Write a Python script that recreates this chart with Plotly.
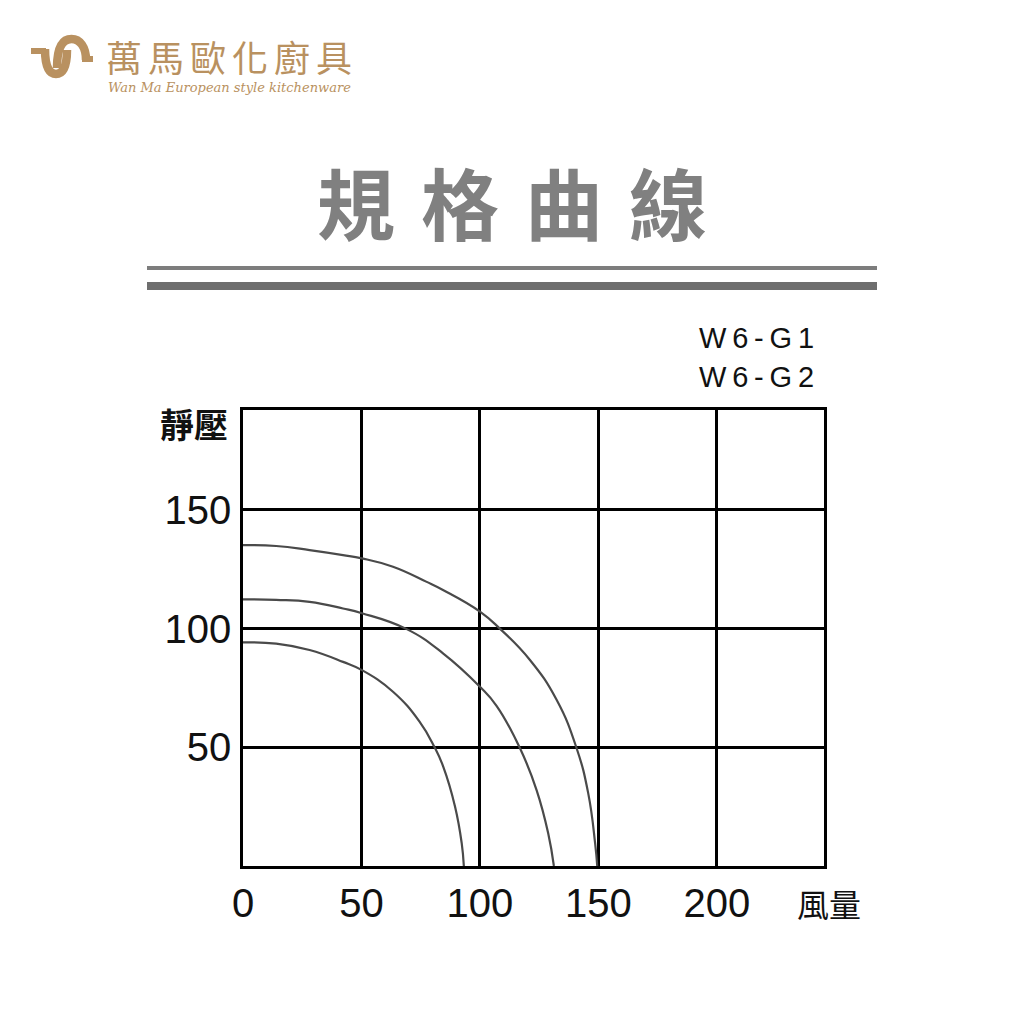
import plotly.graph_objects as go

# ---- data ----
curve_a_x = [0, 14, 28.1, 42.2, 50.2, 63.3, 77.3, 84.4, 100, 108.4, 121.1, 132.4, 140.8, 145.7, 148.6, 149.5]
curve_a_y = [135.2, 134.8, 133.1, 131, 129.6, 126.1, 119.8, 116.3, 107.2, 100, 86.8, 69.9, 49.6, 30.6, 9.6, 0]
curve_b_x = [0, 14, 28.1, 42.2, 50.2, 68.9, 84.4, 100, 107, 116.9, 123.9, 128.8, 131.2]
curve_b_y = [112.3, 112.1, 111.3, 108.5, 106.5, 99.9, 89.6, 75.5, 67.5, 49.6, 32, 13.8, 0]
curve_c_x = [0, 14, 28.1, 42.2, 50.2, 63.3, 74.5, 80.9, 84.5, 89.5, 92.3, 93.2]
curve_c_y = [94.2, 93.7, 91, 86, 82.5, 73.4, 60.8, 49.9, 41.9, 25, 9.6, 0]

x_ticks = [0, 50, 100, 150, 200]
y_ticks = [50, 100, 150]
x_range = [0, 245.2]
y_range = [0, 192.1]

models = ["W6-G1", "W6-G2"]

# ---- layout geometry (screen pixels of the plot area) ----
W = H = 1024
OFF = 8  # page body margin
L, R, T, B = 243, 824, 410, 866


def px(x):
    return (x - L) / (R - L)


def py(y):
    return (B - y) / (B - T)


def pt(x, y):
    return f"{px(x):.5f},{py(y):.5f}"


fig = go.Figure()
for cx, cy in [(curve_a_x, curve_a_y), (curve_b_x, curve_b_y), (curve_c_x, curve_c_y)]:
    fig.add_trace(go.Scatter(x=cx, y=cy, mode="lines",
                             line=dict(color="#4a4a4a", width=2.2, shape="spline", smoothing=1.3),
                             showlegend=False, hoverinfo="skip"))

gold = "#b99160"
shapes = [
    # horizontal rules under the title
    dict(type="line", xref="paper", yref="paper", x0=px(147), x1=px(877), y0=py(268), y1=py(268),
         line=dict(color="#7d7d7d", width=4)),
    dict(type="line", xref="paper", yref="paper", x0=px(147), x1=px(877), y0=py(286), y1=py(286),
         line=dict(color="#6e6e6e", width=8)),
    # logo icon
    dict(type="line", xref="paper", yref="paper", x0=px(31), x1=px(46), y0=py(51), y1=py(51),
         line=dict(color=gold, width=6)),
    dict(type="path", xref="paper", yref="paper",
         path=f"M{pt(45,49)} C{pt(45,68)} {pt(50,74)} {pt(56,74)} C{pt(62,74)} {pt(67,68)} {pt(67,50)}",
         line=dict(color=gold, width=8.5)),
    dict(type="path", xref="paper", yref="paper",
         path=f"M{pt(57,68)} C{pt(57,47)} {pt(63,39)} {pt(71.5,39)} C{pt(80,39)} {pt(86,47)} {pt(86,60)}",
         line=dict(color=gold, width=8.5)),
    dict(type="line", xref="paper", yref="paper", x0=px(82), x1=px(93), y0=py(59), y1=py(59),
         line=dict(color=gold, width=6)),
]

cjk = "Noto Sans CJK TC"
annotations = [
    dict(text="規\u2004格\u2004曲\u2004線", x=px(512), y=py(201),
         font=dict(family=cjk, size=78, color="#808080", weight="bold")),
    dict(text="\u2006".join("萬馬歐化廚具"), x=px(229), y=py(56),
         font=dict(family=cjk, size=36, color=gold)),
    dict(text="<i>Wan Ma European style kitchenware</i>", x=px(229), y=py(88),
         font=dict(family="DejaVu Serif", size=13, color=gold)),
    dict(text="\u2009".join(models[0]), x=px(756), y=py(338),
         font=dict(family="Liberation Sans, Arial", size=29, color="#111111")),
    dict(text="\u2009".join(models[1]), x=px(756), y=py(377),
         font=dict(family="Liberation Sans, Arial", size=29, color="#111111")),
    dict(text="靜壓", x=px(194), y=py(423),
         font=dict(family=cjk, size=34, color="#111111", weight="bold")),
    dict(text="風量", x=px(829), y=py(903),
         font=dict(family=cjk, size=32, color="#111111")),
]
for a in annotations:
    a.update(xref="paper", yref="paper", showarrow=False, xanchor="center", yanchor="middle")

axis_common = dict(showline=True, mirror=True, linecolor="black", linewidth=2.5,
                   showgrid=True, gridcolor="black", gridwidth=2.5, zeroline=False,
                   ticks="", tickfont=dict(family="Liberation Sans, Arial", size=40, color="#111111"),
                   fixedrange=True)

fig.update_layout(
    width=W, height=H,
    margin=dict(l=L - OFF, r=W - R + OFF, t=T - OFF, b=H - B + OFF, pad=0),
    paper_bgcolor="white", plot_bgcolor="white",
    xaxis=dict(range=x_range, tickvals=x_ticks, ticklabelstandoff=0, **axis_common),
    yaxis=dict(range=y_range, tickvals=y_ticks, ticklabelstandoff=1, **axis_common),
    shapes=shapes, annotations=annotations,
    showlegend=False,
)

fig.write_html("out.html")
